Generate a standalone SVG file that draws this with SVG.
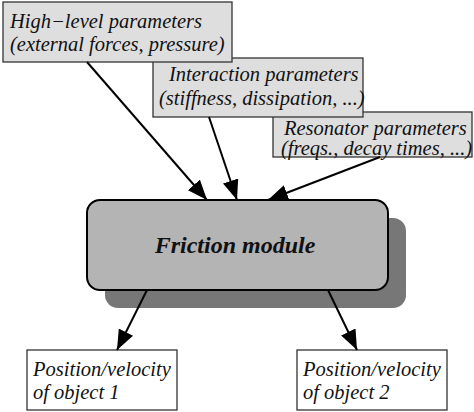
<svg xmlns="http://www.w3.org/2000/svg" width="474" height="412" viewBox="0 0 474 412">
<defs>
<marker id="ah" viewBox="0 0 20 16" refX="20" refY="8" markerWidth="20" markerHeight="16" markerUnits="userSpaceOnUse" orient="auto">
<path d="M0,0 L20,8 L0,16 Z" fill="#000"/>
</marker>
<style>
.param{fill:#dedede;stroke:#333;stroke-width:1.3}
.out{fill:#fff;stroke:#333;stroke-width:1.3}
.t{font-family:"Liberation Serif","Times New Roman",serif;font-style:italic;font-size:20.5px;fill:#111}
.tb{font-family:"Liberation Serif","Times New Roman",serif;font-style:italic;font-weight:bold;font-size:24px;fill:#111}
.c{stroke:#000;stroke-width:2;fill:none;marker-end:url(#ah)}
</style>
</defs>
<rect width="474" height="412" fill="#fff"/>
<g id="friction">
<rect x="105" y="218" width="301" height="90" rx="13" fill="#777"/>
<rect x="87" y="200" width="301" height="90" rx="13" fill="#b4b4b4" stroke="#000" stroke-width="2"/>
<text class="tb" x="235" y="253" text-anchor="middle">Friction module</text>
</g>
<g id="resonator">
<rect class="param" x="273" y="112" width="199" height="45"/>
<text class="t" x="284" y="135">Resonator parameters</text>
<text class="t" x="281" y="155">(freqs., decay times, ...)</text>
</g>
<g id="interaction">
<rect class="param" x="153" y="58" width="210" height="59"/>
<text class="t" x="169" y="81">Interaction parameters</text>
<text class="t" x="159" y="105">(stiffness, dissipation, ...)</text>
</g>
<g id="highlevel">
<rect class="param" x="3" y="2" width="229" height="60"/>
<text class="t" x="10" y="28">High−level  parameters</text>
<text class="t" x="10" y="51">(external forces, pressure)</text>
</g>
<g id="out1">
<rect class="out" x="27" y="350" width="150" height="60"/>
<text class="t" x="33" y="376">Position/velocity</text>
<text class="t" x="33" y="399">of object 1</text>
</g>
<g id="out2">
<rect class="out" x="297" y="350" width="150" height="60"/>
<text class="t" x="303" y="376">Position/velocity</text>
<text class="t" x="303" y="399">of object 2</text>
</g>
<g id="connectors">
<line class="c" x1="87" y1="62" x2="207" y2="200"/>
<line class="c" x1="209" y1="117" x2="237" y2="200"/>
<line class="c" x1="380" y1="157" x2="268" y2="200"/>
<line class="c" x1="147" y1="290" x2="117" y2="350"/>
<line class="c" x1="328" y1="290" x2="357" y2="350"/>
</g>
</svg>
